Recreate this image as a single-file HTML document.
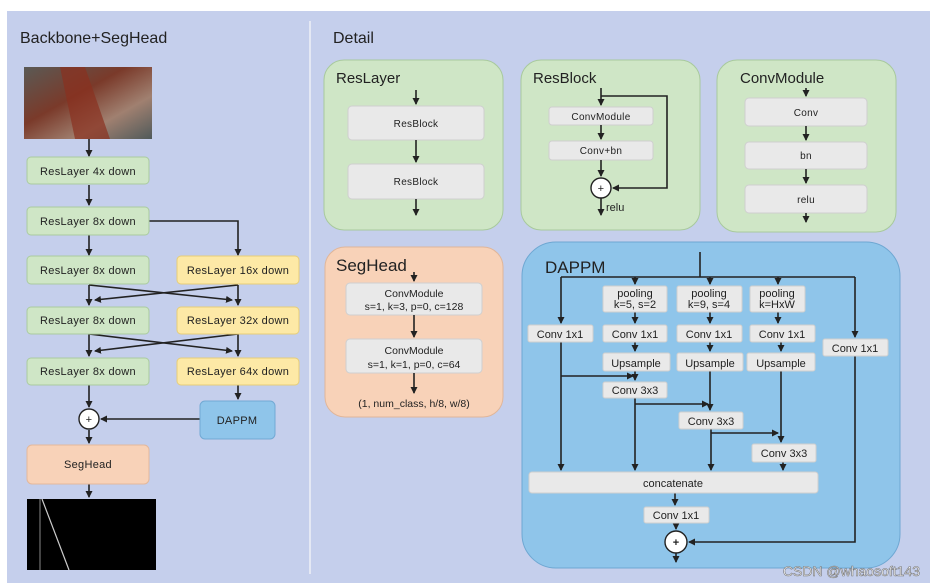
<!DOCTYPE html>
<html><head><meta charset="utf-8"><style>
html,body{margin:0;padding:0;background:#fff;}
svg{display:block;font-family:"Liberation Sans",Arial,sans-serif;}
.t{font-size:11px;fill:#222;text-anchor:middle;letter-spacing:0.3px;}
.h{font-size:16px;fill:#222;}
.l{stroke:#222;stroke-width:1.6;fill:none;}
.g{fill:#e9e9e9;stroke:#cfcfcf;stroke-width:1;}
</style></head><body>
<svg width="935" height="587" viewBox="0 0 935 587" xmlns="http://www.w3.org/2000/svg">
<defs><marker id="a" markerWidth="8" markerHeight="8" refX="6" refY="4" orient="auto" markerUnits="userSpaceOnUse"><path d="M0,0.5 L7,4 L0,7.5 z" fill="#222"/></marker></defs>
<rect x="7" y="11" width="923" height="572" fill="#c5cfec"/>
<line x1="310" y1="21" x2="310" y2="574" stroke="#e4e8f4" stroke-width="2"/>
<text x="20" y="43" class="h">Backbone+SegHead</text>
<text x="333" y="43" class="h">Detail</text>
<defs><linearGradient id="img" x1="0" x2="1" y1="0" y2="1"><stop offset="0" stop-color="#5a5a55"/><stop offset="0.4" stop-color="#7a3a2a"/><stop offset="0.7" stop-color="#a08070"/><stop offset="1" stop-color="#505a5a"/></linearGradient></defs>
<rect x="24" y="67" width="128" height="72" fill="url(#img)"/>
<polygon points="60,67 85,67 110,139 75,139" fill="#8a3020" opacity="0.7"/>
<g class="l">
<line x1="89" y1="139" x2="89" y2="156" marker-end="url(#a)"/>
<line x1="89" y1="185" x2="89" y2="205" marker-end="url(#a)"/>
<line x1="89" y1="235" x2="89" y2="255" marker-end="url(#a)"/>
<polyline points="149,221 238,221 238,255" marker-end="url(#a)"/>
<line x1="89" y1="285" x2="89" y2="305" marker-end="url(#a)"/>
<line x1="238" y1="285" x2="238" y2="305" marker-end="url(#a)"/>
<line x1="89" y1="285" x2="232" y2="300" marker-end="url(#a)"/>
<line x1="238" y1="285" x2="95" y2="300" marker-end="url(#a)"/>
<line x1="89" y1="334" x2="89" y2="356" marker-end="url(#a)"/>
<line x1="238" y1="334" x2="238" y2="356" marker-end="url(#a)"/>
<line x1="89" y1="334" x2="232" y2="351" marker-end="url(#a)"/>
<line x1="238" y1="334" x2="95" y2="351" marker-end="url(#a)"/>
<line x1="89" y1="385" x2="89" y2="407" marker-end="url(#a)"/>
<line x1="238" y1="385" x2="238" y2="399" marker-end="url(#a)"/>
<line x1="200" y1="419" x2="101" y2="419" marker-end="url(#a)"/>
<line x1="89" y1="430" x2="89" y2="443" marker-end="url(#a)"/>
<line x1="89" y1="484" x2="89" y2="497" marker-end="url(#a)"/>
</g>
<g>
<rect x="27" y="157" width="122" height="27" rx="4" fill="#cfe6c6" stroke="#aacb9f"/>
<rect x="27" y="207" width="122" height="28" rx="4" fill="#cfe6c6" stroke="#aacb9f"/>
<rect x="27" y="256" width="122" height="28" rx="4" fill="#cfe6c6" stroke="#aacb9f"/>
<rect x="27" y="307" width="122" height="27" rx="4" fill="#cfe6c6" stroke="#aacb9f"/>
<rect x="27" y="358" width="122" height="27" rx="4" fill="#cfe6c6" stroke="#aacb9f"/>
<rect x="177" y="256" width="122" height="28" rx="4" fill="#fde9a6" stroke="#e6cd78"/>
<rect x="177" y="307" width="122" height="27" rx="4" fill="#fde9a6" stroke="#e6cd78"/>
<rect x="177" y="358" width="122" height="27" rx="4" fill="#fde9a6" stroke="#e6cd78"/>
<rect x="200" y="401" width="75" height="38" rx="5" fill="#8fc5ea" stroke="#72a9d4"/>
<rect x="27" y="445" width="122" height="39" rx="5" fill="#f8d2b8" stroke="#e3b89c"/>
<circle cx="89" cy="419" r="10" fill="#fff" stroke="#222" stroke-width="1.4"/>
<text x="89" y="423" class="t">+</text>
</g>
<text x="88" y="175" class="t">ResLayer 4x down</text>
<text x="88" y="225" class="t">ResLayer 8x down</text>
<text x="88" y="274" class="t">ResLayer 8x down</text>
<text x="88" y="324" class="t">ResLayer 8x down</text>
<text x="88" y="375" class="t">ResLayer 8x down</text>
<text x="238" y="274" class="t">ResLayer 16x down</text>
<text x="238" y="324" class="t">ResLayer 32x down</text>
<text x="238" y="375" class="t">ResLayer 64x down</text>
<text x="237" y="424" class="t">DAPPM</text>
<text x="88" y="468" class="t">SegHead</text>
<rect x="27" y="499" width="129" height="71" fill="#000"/>
<line x1="40" y1="499" x2="40" y2="570" stroke="#888" stroke-width="1"/>
<line x1="42" y1="499" x2="69" y2="570" stroke="#ccc" stroke-width="1.2"/>

<rect x="324" y="60" width="179" height="170" rx="20" fill="#cfe6c6" stroke="#a8c99d"/>
<text x="336" y="83" style="font-size:15px;fill:#222">ResLayer</text>
<rect x="348" y="106" width="136" height="34" rx="4" class="g"/>
<rect x="348" y="164" width="136" height="35" rx="4" class="g"/>
<text x="416" y="127" class="t" style="font-size:10px">ResBlock</text>
<text x="416" y="185" class="t" style="font-size:10px">ResBlock</text>
<g class="l"><line x1="416" y1="90" x2="416" y2="104" marker-end="url(#a)"/><line x1="416" y1="140" x2="416" y2="162" marker-end="url(#a)"/><line x1="416" y1="199" x2="416" y2="215" marker-end="url(#a)"/></g>

<rect x="521" y="60" width="179" height="170" rx="20" fill="#cfe6c6" stroke="#a8c99d"/>
<text x="533" y="83" style="font-size:15px;fill:#222">ResBlock</text>
<rect x="549" y="107" width="104" height="18" rx="3" class="g"/>
<rect x="549" y="141" width="104" height="19" rx="3" class="g"/>
<text x="601" y="120" class="t" style="font-size:10px">ConvModule</text>
<text x="601" y="154" class="t" style="font-size:10px">Conv+bn</text>
<g class="l"><line x1="601" y1="88" x2="601" y2="105" marker-end="url(#a)"/><line x1="601" y1="125" x2="601" y2="139" marker-end="url(#a)"/><line x1="601" y1="160" x2="601" y2="176" marker-end="url(#a)"/>
<polyline points="601,96 667,96 667,188 613,188" marker-end="url(#a)"/><line x1="601" y1="198" x2="601" y2="215" marker-end="url(#a)"/></g>
<circle cx="601" cy="188" r="10" fill="#fff" stroke="#222" stroke-width="1.4"/><text x="601" y="192" class="t">+</text>
<text x="606" y="211" style="font-size:11px;fill:#222">relu</text>

<rect x="717" y="60" width="179" height="172" rx="20" fill="#cfe6c6" stroke="#a8c99d"/>
<text x="740" y="83" style="font-size:15px;fill:#222">ConvModule</text>
<rect x="745" y="98" width="122" height="28" rx="4" class="g"/>
<rect x="745" y="142" width="122" height="27" rx="4" class="g"/>
<rect x="745" y="185" width="122" height="28" rx="4" class="g"/>
<text x="806" y="116" class="t" style="font-size:10px">Conv</text>
<text x="806" y="159" class="t" style="font-size:10px">bn</text>
<text x="806" y="203" class="t" style="font-size:10px">relu</text>
<g class="l"><line x1="806" y1="88" x2="806" y2="96" marker-end="url(#a)"/><line x1="806" y1="126" x2="806" y2="140" marker-end="url(#a)"/><line x1="806" y1="169" x2="806" y2="183" marker-end="url(#a)"/><line x1="806" y1="213" x2="806" y2="222" marker-end="url(#a)"/></g>

<rect x="325" y="247" width="178" height="170" rx="20" fill="#f8d2b8" stroke="#e0b69a"/>
<text x="336" y="271" style="font-size:17px;fill:#222">SegHead</text>
<rect x="346" y="283" width="136" height="32" rx="4" class="g"/>
<rect x="346" y="339" width="136" height="34" rx="4" class="g"/>
<text x="414" y="297" style="font-size:10.5px;fill:#222;text-anchor:middle">ConvModule</text>
<text x="414" y="310" style="font-size:10.5px;fill:#222;text-anchor:middle">s=1, k=3, p=0, c=128</text>
<text x="414" y="354" style="font-size:10.5px;fill:#222;text-anchor:middle">ConvModule</text>
<text x="414" y="368" style="font-size:10.5px;fill:#222;text-anchor:middle">s=1, k=1, p=0, c=64</text>
<text x="414" y="407" style="font-size:10.5px;fill:#222;text-anchor:middle">(1, num_class, h/8, w/8)</text>
<g class="l"><line x1="414" y1="272" x2="414" y2="281" marker-end="url(#a)"/><line x1="414" y1="315" x2="414" y2="337" marker-end="url(#a)"/><line x1="414" y1="373" x2="414" y2="393" marker-end="url(#a)"/></g>

<rect x="522" y="242" width="378" height="326" rx="34" fill="#8fc5ea" stroke="#6ea7d2"/>
<text x="545" y="273" style="font-size:17px;fill:#222">DAPPM</text>
<g class="l">
<line x1="700" y1="252" x2="700" y2="277"/>
<polyline points="561,277 855,277"/>
<line x1="561" y1="277" x2="561" y2="323" marker-end="url(#a)"/>
<line x1="635" y1="277" x2="635" y2="284" marker-end="url(#a)"/>
<line x1="710" y1="277" x2="710" y2="284" marker-end="url(#a)"/>
<line x1="778" y1="277" x2="778" y2="284" marker-end="url(#a)"/>
<line x1="855" y1="277" x2="855" y2="337" marker-end="url(#a)"/>
<line x1="635" y1="312" x2="635" y2="323" marker-end="url(#a)"/>
<line x1="710" y1="312" x2="710" y2="323" marker-end="url(#a)"/>
<line x1="778" y1="312" x2="778" y2="323" marker-end="url(#a)"/>
<line x1="635" y1="342" x2="635" y2="351" marker-end="url(#a)"/>
<line x1="710" y1="342" x2="710" y2="351" marker-end="url(#a)"/>
<line x1="781" y1="342" x2="781" y2="351" marker-end="url(#a)"/>
<line x1="561" y1="342" x2="561" y2="470" marker-end="url(#a)"/>
<polyline points="561,376 633,376" marker-end="url(#a)"/>
<line x1="635" y1="371" x2="635" y2="380" marker-end="url(#a)"/>
<line x1="635" y1="398" x2="635" y2="470" marker-end="url(#a)"/>
<polyline points="635,404 708,404" marker-end="url(#a)"/>
<line x1="710" y1="371" x2="710" y2="410" marker-end="url(#a)"/>
<line x1="711" y1="429" x2="711" y2="470" marker-end="url(#a)"/>
<polyline points="711,433 778,433" marker-end="url(#a)"/>
<line x1="781" y1="371" x2="781" y2="442" marker-end="url(#a)"/>
<line x1="783" y1="462" x2="783" y2="470" marker-end="url(#a)"/>
<line x1="675" y1="493" x2="675" y2="505" marker-end="url(#a)"/>
<line x1="676" y1="523" x2="676" y2="529" marker-end="url(#a)"/>
<polyline points="855,356 855,542 689,542" marker-end="url(#a)"/>
<line x1="676" y1="553" x2="676" y2="562" marker-end="url(#a)"/>
</g>
<g>
<rect x="528" y="325" width="65" height="17" rx="2" class="g"/>
<rect x="823" y="339" width="65" height="17" rx="2" class="g"/>
<rect x="603" y="286" width="64" height="26" rx="2" class="g"/>
<rect x="677" y="286" width="65" height="26" rx="2" class="g"/>
<rect x="750" y="286" width="55" height="26" rx="2" class="g"/>
<rect x="603" y="325" width="64" height="17" rx="2" class="g"/>
<rect x="677" y="325" width="65" height="17" rx="2" class="g"/>
<rect x="750" y="325" width="65" height="17" rx="2" class="g"/>
<rect x="603" y="353" width="67" height="18" rx="2" class="g"/>
<rect x="677" y="353" width="66" height="18" rx="2" class="g"/>
<rect x="747" y="353" width="68" height="18" rx="2" class="g"/>
<rect x="603" y="382" width="64" height="16" rx="2" class="g"/>
<rect x="679" y="412" width="64" height="17" rx="2" class="g"/>
<rect x="752" y="444" width="64" height="18" rx="2" class="g"/>
<rect x="529" y="472" width="289" height="21" rx="3" class="g"/>
<rect x="644" y="507" width="65" height="16" rx="2" class="g"/>
<circle cx="676" cy="542" r="11" fill="#fff" stroke="#222" stroke-width="1.4"/>
</g>
<g style="font-size:11px;fill:#222;text-anchor:middle">
<text x="560" y="338">Conv 1x1</text>
<text x="855" y="352">Conv 1x1</text>
<text x="635" y="297">pooling</text><text x="635" y="308">k=5, s=2</text>
<text x="709" y="297">pooling</text><text x="709" y="308">k=9, s=4</text>
<text x="777" y="297">pooling</text><text x="777" y="308">k=HxW</text>
<text x="635" y="338">Conv 1x1</text>
<text x="709" y="338">Conv 1x1</text>
<text x="782" y="338">Conv 1x1</text>
<text x="636" y="367">Upsample</text>
<text x="710" y="367">Upsample</text>
<text x="781" y="367">Upsample</text>
<text x="635" y="394">Conv 3x3</text>
<text x="711" y="425">Conv 3x3</text>
<text x="784" y="457">Conv 3x3</text>
<text x="673" y="487">concatenate</text>
<text x="676" y="519">Conv 1x1</text>
<text x="676" y="546" style="font-weight:bold">+</text>
</g>
<text x="920" y="576" style="font-size:14px;fill:#fff;stroke:#777;stroke-width:0.6;text-anchor:end">CSDN @whaosoft143</text>
</svg>
</body></html>
